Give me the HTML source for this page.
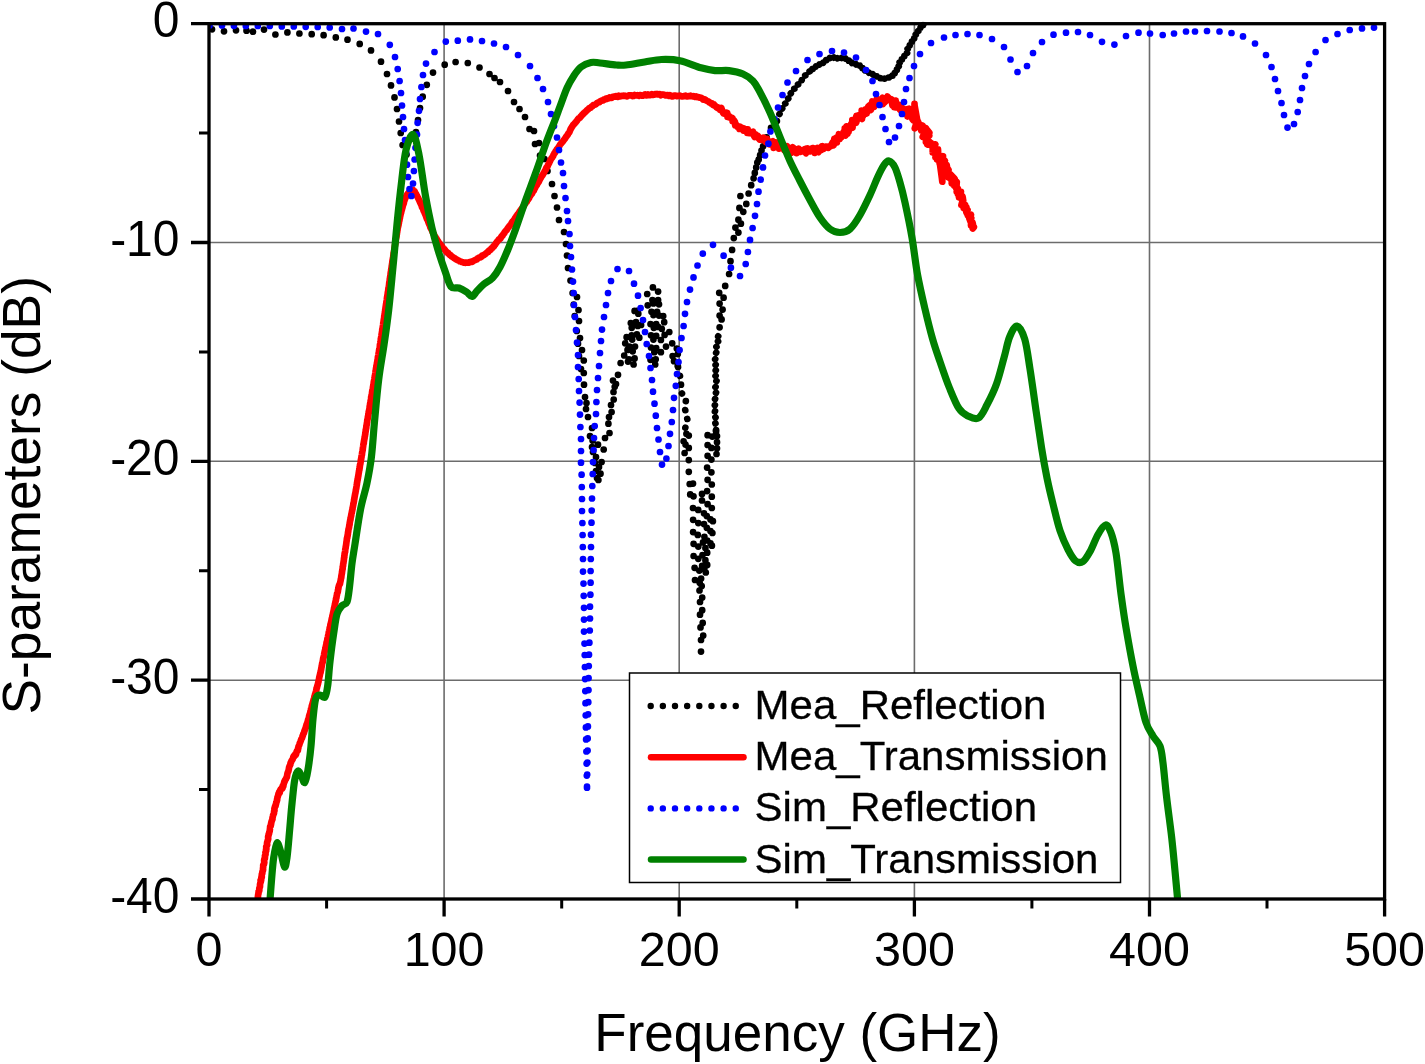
<!DOCTYPE html>
<html><head><meta charset="utf-8"><title>S-parameters</title>
<style>html,body{margin:0;padding:0;background:#fff}body{width:1425px;height:1064px;overflow:hidden}</style></head>
<body>
<svg width="1425" height="1064" viewBox="0 0 1425 1064" style="display:block">
<rect width="1425" height="1064" fill="#fff"/>
<path d="M444.1 23.7V899.0M679.2 23.7V899.0M914.4 23.7V899.0M1149.5 23.7V899.0M209.0 242.5H1384.6M209.0 461.3H1384.6M209.0 680.2H1384.6" stroke="#6c6c6c" stroke-width="1.6" fill="none"/>
<clipPath id="c"><rect x="209.0" y="21.7" width="1175.6" height="877.3"/></clipPath>
<g clip-path="url(#c)" fill="none" stroke-linecap="round" stroke-linejoin="round">
<g stroke="#000" stroke-width="6.7">
<path d="M678.0 367.0L681.0 380.5L681.0 392.0L686.0 399.5L685.0 409.0L687.4 419.5L685.0 429.0" stroke-dasharray="0.01 9"/>
<path d="M716.0 430.0L716.8 426.7L715.4 423.3L717.2 420.0L715.4 417.2L716.9 414.3L714.9 411.5L716.3 408.6L714.6 405.7L716.1 402.8L714.5 400.0L716.1 397.2L715.1 394.3L716.7 391.5L714.4 388.5L716.5 385.7L715.2 382.8L717.2 380.0L714.4 377.2L717.0 374.3L714.9 371.5L717.3 368.5L715.1 365.7L717.0 362.8L714.7 360.0L716.6 356.8L715.9 353.2L717.8 350.1L716.1 347.1L718.7 344.9L717.4 341.9L720.2 339.7L717.9 336.8L719.6 333.9" stroke-dasharray="0.01 7"/>
<path d="M779.5 114.0L781.0 111.6L781.8 108.9L783.6 107.0L784.1 104.3L786.4 102.8L786.9 99.8L789.0 97.8L789.3 94.8L791.4 92.7L792.1 89.9L794.8 88.6L795.7 85.8L798.1 84.4L798.9 81.7L801.6 80.5L803.0 76.8L806.3 74.8L807.7 72.1L810.5 71.1L812.2 68.6" stroke-dasharray="0.01 6.2"/>
<path d="M812.5 69.0L814.8 68.4L816.0 66.2L818.5 65.8L819.8 63.7L822.9 63.2L824.6 60.3L827.9 60.1L829.8 58.0L832.6 58.7L834.8 56.7L837.5 58.4L840.0 57.1L842.5 58.6L845.3 58.2L847.1 60.9L850.2 60.4L852.1 63.0L855.2 63.4L857.1 65.7L859.8 65.6L860.7 68.3L863.6 68.0L864.7 70.4L867.8 71.0L869.6 73.7L872.7 74.2L874.7 76.2L877.7 76.5L879.8 78.3L882.5 77.7L885.0 78.8L887.5 77.6L889.9 77.4L891.6 75.5L894.4 75.8L894.8 72.3L896.9 70.3L896.9 67.2L899.5 65.8L899.1 62.8L901.8 61.4L901.9 58.7L904.2 57.3L904.5 54.7L907.1 52.9L906.8 49.5L909.4 47.7L909.8 44.8L911.8 42.7L912.1 39.8L914.2 38.3L914.2 35.6L916.4 34.2L917.4 31.6L919.8 30.0L920.6 27.2L922.9 26.8L923.4 24.3" stroke-dasharray="0.01 4.5"/>
<path d="M212.0 29.3h.01M224.0 31.3h.01M236.0 30.3h.01M246.5 30.7h.01M253.0 31.7h.01M264.0 29.6h.01M275.4 34.5h.01M287.4 32.4h.01M299.4 33.5h.01M311.7 34.2h.01M323.6 35.2h.01M335.8 37.4h.01M347.5 39.7h.01M359.7 43.9h.01M371.0 50.4h.01M381.0 61.7h.01M387.0 74.0h.01M391.0 85.4h.01M394.5 97.4h.01M397.0 109.0h.01M399.0 121.5h.01M400.7 133.0h.01M402.6 145.0h.01M406.5 154.5h.01M416.0 132.0h.01M418.0 120.0h.01M420.0 108.0h.01M422.7 96.7h.01M426.8 84.8h.01M433.0 72.6h.01M444.7 64.7h.01M455.6 62.0h.01M467.8 63.0h.01M479.5 67.5h.01M489.5 74.0h.01M494.5 78.0h.01M500.0 82.0h.01M508.0 91.0h.01M514.0 102.0h.01M519.5 109.0h.01M525.0 117.0h.01M529.5 129.0h.01M534.0 131.0h.01M535.0 144.0h.01M539.0 143.0h.01M540.0 155.5h.01M544.5 159.0h.01M547.5 171.0h.01M552.0 184.0h.01M554.5 196.0h.01M557.0 207.5h.01M559.0 220.0h.01M564.0 232.0h.01M566.0 244.0h.01M567.0 255.5h.01M568.0 268.0h.01M570.5 280.5h.01M572.6 293.0h.01M573.7 304.7h.01M574.7 316.0h.01M579.0 321.0h.01M576.8 331.0h.01M578.0 343.7h.01M579.0 356.0h.01M583.8 360.5h.01M581.0 369.0h.01M583.8 373.0h.01M584.0 384.7h.01M585.0 397.0h.01M586.0 409.0h.01M588.0 417.0h.01M592.0 428.0h.01M592.6 440.5h.01M598.0 444.7h.01M593.0 452.0h.01M595.0 463.0h.01M597.0 478.0h.01M598.4 480.0h.01M600.5 473.7h.01M601.6 462.0h.01M603.7 449.5h.01M605.0 438.0h.01M609.5 433.0h.01M608.4 423.7h.01M611.6 412.0h.01M613.7 399.5h.01M614.7 386.8h.01M613.0 380.5h.01M618.0 374.8h.01M620.6 363.0h.01M592.0 447.0h.01M596.0 457.0h.01M599.0 467.0h.01M596.0 471.0h.01M613.5 392.0h.01M616.0 384.0h.01M611.0 405.0h.01M609.0 417.0h.01M577.0 297.0h.01M578.5 310.0h.01M580.0 338.0h.01M582.0 350.0h.01M586.5 403.0h.01M590.0 436.0h.01M652.9 287.4h.01M647.2 294.0h.01M658.1 291.6h.01M652.4 300.1h.01M658.1 300.1h.01M659.0 304.3h.01M647.7 305.3h.01M653.4 303.4h.01M651.5 311.8h.01M657.1 311.8h.01M663.2 316.1h.01M653.4 315.1h.01M659.0 315.6h.01M664.2 322.2h.01M650.5 324.1h.01M656.2 324.1h.01M661.8 328.8h.01M653.8 327.8h.01M658.1 326.9h.01M669.3 332.0h.01M664.6 334.9h.01M651.0 335.3h.01M656.2 335.8h.01M660.9 340.0h.01M653.4 339.6h.01M672.2 343.3h.01M666.0 346.6h.01M651.0 347.5h.01M656.2 348.0h.01M660.9 352.2h.01M654.3 352.2h.01M676.8 348.5h.01M672.6 356.0h.01M677.8 354.1h.01M650.5 359.8h.01M655.7 359.3h.01M655.2 364.5h.01M674.0 361.2h.01M677.8 365.4h.01M636.9 310.9h.01M638.3 313.7h.01M634.6 310.9h.01M630.8 323.1h.01M636.0 322.2h.01M631.7 327.8h.01M637.8 325.9h.01M641.1 325.0h.01M626.6 337.2h.01M631.7 335.3h.01M636.9 334.4h.01M632.2 339.6h.01M639.3 337.7h.01M625.2 343.3h.01M629.4 346.6h.01M635.0 346.6h.01M627.5 349.9h.01M632.7 351.3h.01M624.2 355.5h.01M628.9 359.3h.01M634.6 358.4h.01M628.0 361.6h.01M633.6 364.5h.01M707.6 435.2h.01M712.3 436.6h.01M716.1 431.4h.01M717.0 436.1h.01M707.6 445.0h.01M711.4 447.9h.01M717.0 448.3h.01M717.0 442.2h.01M707.6 455.8h.01M711.4 459.6h.01M716.5 454.0h.01M707.1 467.6h.01M711.4 472.3h.01M707.6 479.8h.01M711.8 484.5h.01M702.0 493.9h.01M707.1 491.1h.01M711.8 496.7h.01M702.0 500.5h.01M707.6 504.2h.01M711.8 508.0h.01M686.4 433.8h.01M688.8 435.6h.01M683.6 441.3h.01M685.5 444.6h.01M688.8 447.9h.01M684.6 453.0h.01M688.8 460.1h.01M688.8 471.8h.01M689.7 484.0h.01M693.0 483.6h.01M690.2 494.4h.01M693.5 496.3h.01M693.0 508.0h.01M698.2 509.9h.01M693.1 519.8h.01M698.3 523.1h.01M693.1 532.1h.01M697.8 534.9h.01M693.6 543.8h.01M698.3 546.6h.01M693.6 556.0h.01M698.3 558.8h.01M694.6 567.8h.01M699.3 570.6h.01M695.0 580.0h.01M699.7 582.8h.01M704.0 513.3h.01M706.8 516.1h.01M710.5 519.4h.01M712.9 521.2h.01M704.0 524.1h.01M706.8 527.8h.01M710.5 531.1h.01M712.4 533.0h.01M704.4 536.8h.01M707.2 540.5h.01M710.5 543.3h.01M711.9 545.7h.01M703.0 542.4h.01M705.4 548.0h.01M707.2 552.7h.01M702.5 555.1h.01M705.4 560.2h.01M707.2 564.9h.01M702.1 565.9h.01M704.4 568.7h.01M705.8 572.5h.01M701.1 578.6h.01M699.5 590.5h.01M700.0 602.0h.01M700.0 614.7h.01M700.5 627.4h.01M701.0 640.0h.01M701.0 651.6h.01M701.7 586.0h.01M702.2 597.5h.01M702.2 610.2h.01M702.7 622.9h.01M703.2 635.5h.01M719.6 327.3h.01M721.6 319.4h.01M719.6 315.5h.01M722.6 309.6h.01M719.6 303.6h.01M723.6 297.7h.01M719.2 292.8h.01M725.2 285.9h.01M729.1 274.0h.01M730.5 261.2h.01M732.1 249.9h.01M733.8 238.1h.01M738.4 232.6h.01M735.4 227.6h.01M740.9 223.7h.01M738.4 219.7h.01M743.3 211.8h.01M739.4 207.9h.01M746.3 203.9h.01M740.4 196.0h.01M748.6 193.5h.01M751.2 185.2h.01M753.6 178.3h.01M754.8 172.9h.01M756.2 167.4h.01M757.3 162.5h.01M758.7 159.5h.01M760.1 155.2h.01M761.5 150.6h.01M763.1 146.3h.01M766.6 137.4h.01M771.0 127.9h.01M776.9 121.0h.01"/>
</g>
<path d="M257.5 900.3L257.7 899.7L257.9 898.2L258.0 898.7L257.9 898.0L257.9 896.6L258.0 896.1L258.2 894.4L258.5 893.6L258.5 892.5L258.7 891.6L258.8 891.0L259.3 890.7L259.3 888.5L259.6 887.7L260.0 886.2L260.0 886.5L260.0 884.5L260.4 882.8L260.8 881.8L260.6 880.5L261.1 880.6L261.3 878.2L261.5 876.8L261.8 877.2L261.7 875.6L261.9 874.0L262.3 873.5L262.3 872.5L262.7 870.6L262.9 870.8L263.1 869.5L263.0 868.4L263.2 867.0L263.2 865.2L263.5 864.6L264.0 864.2L264.1 862.8L264.3 862.6L264.1 860.5L264.3 859.3L264.7 858.2L264.9 858.2L265.0 856.5L264.9 856.0L265.5 854.7L265.6 853.9L265.4 852.4L265.7 851.8L266.2 850.8L266.0 849.2L266.4 849.1L266.2 846.8L266.8 845.8L266.6 845.9L267.2 844.9L267.0 843.7L267.1 842.6L267.7 840.8L267.6 840.9L267.8 840.3L268.2 839.1L268.1 836.9L268.3 836.0L268.5 835.4L268.7 834.1L269.0 833.9L269.3 832.1L269.5 831.8L269.7 830.9L269.9 829.3L270.1 827.5L270.1 826.8L270.4 826.8L270.9 825.3L270.9 824.5L271.2 823.5L271.2 823.0L271.5 821.7L272.0 820.3L272.1 819.8L272.5 819.3L272.5 817.8L272.7 817.0L272.9 816.2L273.2 814.8L273.6 814.3L274.0 813.1L274.1 811.0L274.5 810.9L274.4 808.5L274.7 807.8L275.0 806.4L275.6 806.0L275.5 805.3L276.0 804.0L276.4 802.0L276.3 802.4L276.7 801.4L277.2 799.8L277.0 799.5L277.4 798.0L277.5 797.1L277.9 796.4L278.4 794.1L278.5 793.6L279.1 792.6L279.1 792.3L279.8 792.5L279.8 791.8L280.3 789.7L281.0 789.7L281.7 787.9L282.5 788.3L282.7 786.2L283.3 786.3L283.5 784.8L284.1 782.5L284.1 781.9L284.7 781.7L284.8 780.5L285.3 779.7L285.9 779.2L286.4 777.7L286.9 777.1L287.2 775.1L287.3 774.4L287.5 773.3L287.9 772.2L288.4 771.3L288.6 770.1L288.9 768.7L289.1 767.2L289.6 766.0L289.7 765.8L290.3 764.7L290.5 763.2L290.6 762.9L291.1 762.0L291.7 760.4L292.0 760.4L292.6 759.4L293.0 758.2L293.3 757.0L293.8 756.0L294.4 756.3L294.9 754.6L295.9 754.7L296.3 753.1L296.6 751.7L296.9 751.2L297.3 750.4L297.9 750.3L297.9 748.7L298.3 748.4L298.5 746.4L299.1 745.4L299.4 744.5L299.7 743.4L300.2 742.2L300.6 741.2L301.1 739.8L301.5 738.8L301.9 738.2L302.2 737.4L302.4 736.6L302.9 735.4L303.2 734.4L303.4 733.8L303.9 733.0L304.2 731.9L304.4 731.1L304.8 730.0L305.2 729.2L305.5 728.2L305.9 727.3L306.1 726.2L306.5 724.8L306.8 724.0L307.2 723.2L307.5 722.1L307.8 721.2L308.1 719.8L308.4 719.3L308.7 718.2L309.0 717.0L309.1 716.1L309.5 715.1L309.8 714.1L310.0 713.5L310.3 712.1L310.6 711.3L310.9 710.2L311.0 708.9L311.4 708.0L311.7 707.0L311.8 705.8L312.2 704.9L312.5 704.1L312.7 702.9L313.0 702.0L313.3 700.8L313.6 699.9L313.7 699.4L314.1 698.2L314.3 697.5L314.5 696.2L314.8 695.6L315.0 694.5L315.4 693.5L315.7 692.3L315.9 691.6L316.1 690.8L316.4 689.9L316.5 688.4L316.9 687.8L317.1 686.7L317.4 685.7L317.6 685.0L318.0 683.9L318.2 682.5L318.5 681.8L318.6 680.7L318.9 679.8L319.0 679.0L319.2 677.9L319.4 676.7L319.6 676.2L319.8 675.3L320.1 673.9L320.3 672.9L320.6 672.4L320.7 671.3L321.0 670.3L321.2 669.1L321.4 667.8L321.6 667.0L321.7 666.1L322.0 664.8L322.1 663.8L322.3 662.9L322.7 662.2L322.8 660.9L323.0 659.9L323.1 658.9L323.3 657.8L323.6 657.2L323.9 655.8L324.0 655.3L324.2 653.8L324.4 652.8L324.6 651.8L324.9 650.9L325.1 650.2L325.3 648.9L325.5 648.0L325.7 646.9L326.0 645.8L326.2 644.7L326.4 644.0L326.5 642.8L326.8 641.8L327.1 640.9L327.3 640.2L327.4 638.7L327.7 638.1L327.9 637.0L328.1 635.7L328.3 635.2L328.6 634.2L328.7 632.8L328.9 631.7L329.2 631.0L329.4 630.0L329.6 629.1L329.7 627.9L330.0 627.0L330.3 626.1L330.4 624.7L330.7 623.7L330.9 623.0L331.2 621.6L331.4 620.9L331.6 619.6L331.8 618.5L332.1 617.8L332.3 616.9L332.4 615.8L332.8 614.6L332.9 613.9L333.2 612.5L333.4 611.8L333.6 610.6L333.8 610.0L334.0 608.4L334.3 607.6L334.5 606.4L334.7 605.7L335.0 604.3L335.2 603.2L335.4 602.1L335.6 601.3L335.9 600.3L336.0 598.8L336.4 597.9L336.5 597.1L336.7 595.7L336.9 595.1L337.1 593.5L337.5 592.7L337.7 592.1L337.9 591.2L338.0 590.0L338.2 589.5L338.4 588.2L338.5 587.6L338.6 586.9L339.1 585.2L339.5 584.6L339.7 584.1L339.7 583.9L340.0 583.8L340.1 582.8L340.5 581.2L340.9 578.9L341.2 577.9L341.2 577.1L341.4 576.8L341.4 575.6L341.6 574.9L341.7 574.2L341.8 573.8L342.0 572.6L342.0 571.9L342.2 571.0L342.3 569.8L342.6 569.1L342.7 568.1L342.7 566.7L343.0 566.0L343.1 565.2L343.2 563.7L343.5 562.8L343.6 561.5L343.8 560.8L343.9 559.7L344.0 558.3L344.3 557.2L344.3 555.9L344.5 555.2L344.6 553.7L344.8 552.8L345.1 551.9L345.2 550.8L345.3 549.2L345.6 548.3L345.7 547.1L345.9 546.0L346.1 545.1L346.2 544.1L346.4 542.6L346.5 541.7L346.7 540.7L346.8 539.6L346.9 538.6L347.2 538.0L347.3 536.7L347.5 536.2L347.7 534.8L347.9 534.0L348.0 532.5L348.2 531.8L348.3 530.8L348.5 529.4L348.8 528.3L349.0 527.5L349.2 526.3L349.3 525.3L349.6 524.5L349.7 523.1L349.8 522.5L350.0 521.3L350.2 520.3L350.5 519.5L350.5 518.3L350.8 517.4L351.0 516.4L351.2 515.5L351.3 514.7L351.5 513.5L351.8 512.8L351.9 511.5L352.1 510.9L352.3 509.7L352.5 509.1L352.6 507.9L352.9 506.8L353.0 506.2L353.3 504.7L353.3 503.7L353.6 503.1L353.8 502.0L354.0 500.9L354.1 499.6L354.4 498.8L354.4 498.1L354.6 497.0L354.8 496.0L355.0 494.9L355.1 494.3L355.4 493.0L355.5 492.4L355.8 490.9L355.8 490.4L356.1 488.9L356.3 488.1L356.4 487.2L356.6 485.9L356.7 485.0L356.9 484.4L357.0 483.0L357.2 482.1L357.3 481.1L357.6 480.0L357.6 479.4L357.9 478.2L358.1 476.8L358.3 475.9L358.4 475.1L358.6 474.0L358.7 473.1L358.9 472.1L359.0 471.0L359.3 470.1L359.5 468.9L359.6 468.2L359.8 466.8L359.9 465.8L360.0 465.0L360.3 464.0L360.5 462.7L360.6 461.7L360.8 461.2L360.9 459.7L361.2 458.9L361.3 457.8L361.5 457.3L361.5 456.2L361.8 455.3L362.0 454.3L362.1 452.8L362.2 452.3L362.5 450.9L362.7 449.8L362.8 448.9L362.9 447.8L363.0 447.3L363.2 445.9L363.3 444.9L363.5 443.8L363.8 443.3L363.8 442.3L364.0 441.2L364.2 440.0L364.4 438.9L364.6 438.0L364.6 437.2L364.9 436.3L365.1 434.9L365.3 433.9L365.3 433.1L365.5 432.2L365.7 430.8L365.9 429.7L366.0 428.9L366.2 428.3L366.3 427.1L366.4 425.7L366.7 424.8L366.8 424.0L366.9 423.2L367.2 421.8L367.2 420.7L367.4 419.9L367.6 418.9L367.8 418.1L368.0 416.8L368.1 416.0L368.3 415.3L368.4 413.8L368.7 413.1L368.8 412.2L368.9 410.9L369.2 410.1L369.4 408.9L369.6 408.0L369.6 407.1L369.7 406.2L370.0 405.0L370.1 403.8L370.2 403.2L370.6 402.0L370.6 400.8L370.8 400.1L371.1 399.1L371.1 397.8L371.2 396.9L371.5 396.2L371.6 395.1L371.9 394.2L372.0 393.0L372.1 392.0L372.3 390.8L372.5 389.7L372.7 389.1L372.9 388.2L373.0 386.9L373.2 386.0L373.3 385.0L373.6 384.1L373.7 382.8L373.8 381.7L374.0 380.9L374.2 380.3L374.4 378.9L374.5 377.9L374.7 377.3L374.9 376.2L375.0 375.4L375.2 374.3L375.3 373.3L375.5 372.3L375.6 371.0L375.8 370.3L375.9 369.4L376.1 367.9L376.3 367.5L376.4 366.0L376.7 365.0L376.9 364.4L376.9 363.4L377.1 362.4L377.4 361.5L377.4 360.5L377.7 359.5L377.8 358.6L377.9 357.1L378.2 356.0L378.4 355.5L378.5 354.5L378.6 353.2L378.9 352.0L379.0 351.1L379.1 350.2L379.3 349.0L379.5 348.3L379.8 347.0L379.9 346.1L379.9 345.1L380.1 344.0L380.3 343.2L380.5 342.2L380.7 341.0L380.8 339.9L380.8 339.0L381.1 338.0L381.1 337.5L381.4 336.2L381.5 335.4L381.6 334.2L381.8 333.4L381.9 332.5L382.2 331.1L382.2 330.2L382.3 329.3L382.6 328.4L382.7 327.4L382.9 326.1L383.1 325.1L383.2 323.9L383.3 322.8L383.5 322.0L383.6 321.1L383.7 320.3L383.9 319.0L384.1 318.2L384.2 317.1L384.3 315.9L384.6 315.2L384.6 314.1L384.9 312.9L384.9 311.9L385.2 310.8L385.2 309.7L385.5 308.7L385.5 308.0L385.7 306.6L385.9 305.7L386.0 304.5L386.3 303.5L386.3 302.8L386.4 302.0L386.7 300.6L386.8 299.9L386.9 298.7L387.0 297.8L387.2 296.5L387.4 295.4L387.6 294.8L387.7 293.6L387.8 292.6L388.0 291.7L388.2 290.7L388.3 289.5L388.4 288.7L388.6 287.3L388.8 286.7L389.0 285.6L389.1 284.5L389.2 283.3L389.3 282.4L389.6 281.3L389.7 280.4L389.8 279.1L390.0 278.2L390.1 277.2L390.2 276.5L390.5 275.3L390.6 274.1L390.6 273.5L390.8 272.2L391.1 271.4L391.1 270.2L391.3 269.3L391.4 268.4L391.6 267.4L391.7 266.3L391.8 265.6L392.0 264.5L392.1 263.6L392.3 262.8L392.4 261.3L392.5 260.6L392.7 259.7L392.8 259.0L393.0 257.9L393.3 257.0L393.3 255.7L393.5 254.8L393.6 253.3L393.9 252.5L394.0 251.3L394.2 250.2L394.4 249.4L394.6 248.1L394.7 247.1L394.9 245.7L395.1 244.6L395.3 243.7L395.4 242.6L395.5 241.5L395.6 240.5L395.8 239.8L396.0 238.5L396.2 237.6L396.4 236.7L396.6 235.6L396.6 234.9L396.9 234.0L396.9 233.0L397.2 232.1L397.2 230.7L397.5 230.3L397.6 229.0L397.7 228.1L397.9 227.6L398.2 226.3L398.2 225.8L398.5 225.1L398.6 224.2L398.9 223.0L399.0 221.7L399.4 220.4L399.6 219.2L399.9 218.1L400.1 216.6L400.4 215.4L400.6 214.3L400.9 213.3L401.2 212.4L401.3 211.6L401.6 210.6L401.9 209.5L402.1 208.7L402.5 207.5L402.7 206.4L402.8 205.9L403.1 205.1L403.3 204.5L403.6 203.7L403.9 202.7L404.0 201.7L404.5 200.5L404.9 199.3L405.4 198.0L405.8 197.2L406.2 196.2L406.7 195.5L407.1 194.7L407.5 194.1L408.0 193.4L408.8 192.8L409.5 191.6L410.3 190.5L411.2 190.0L412.0 189.9L413.1 190.1L413.4 190.4L413.9 190.8L414.6 191.4L415.1 192.5L415.7 193.5L416.2 194.4L416.8 195.5L417.3 196.6L417.9 197.5L418.5 198.8L418.9 199.8L419.4 200.5L419.8 201.9L420.2 202.4L420.6 203.5L420.9 204.0L421.3 205.0L421.7 205.9L422.0 207.2L422.4 207.9L422.9 208.6L423.4 209.9L423.6 210.8L424.2 211.8L424.7 213.1L425.0 213.9L425.5 214.8L425.8 215.7L426.1 216.4L426.5 217.7L426.9 218.8L427.3 219.7L427.7 220.1L428.1 221.2L428.4 222.1L428.9 223.5L429.3 224.5L429.7 225.0L430.1 226.4L430.4 227.5L430.9 228.5L431.2 228.9L431.8 230.2L432.2 230.8L432.6 232.1L433.1 233.1L433.5 233.5L434.0 234.6L434.5 235.7L435.1 236.7L435.7 237.6L436.3 238.4L437.0 239.5L437.5 240.5L438.0 241.1L438.8 242.4L439.3 243.2L440.1 243.9L440.6 244.9L441.3 245.4L441.9 246.5L442.5 247.2L443.2 248.1L443.7 248.5L444.4 249.2L445.1 250.1L445.7 251.1L446.7 252.0L447.5 252.8L448.4 253.3L449.2 254.3L449.9 255.1L450.8 255.3L451.5 256.4L452.5 257.0L453.2 257.2L454.0 258.1L454.8 258.3L455.8 259.2L456.6 259.5L457.7 260.3L458.7 260.5L459.7 261.3L460.7 261.5L461.6 261.9L462.6 262.0L463.6 262.6L464.6 262.7L465.6 262.8L466.7 262.5L467.5 262.7L468.5 262.7L469.4 262.2L470.3 262.1L471.1 261.6L472.2 261.8L473.1 261.1L474.0 260.5L475.0 260.1L476.0 259.7L477.0 259.3L477.7 258.3L478.5 257.9L479.4 257.4L480.3 257.4L481.2 257.0L482.0 255.7L482.8 255.4L483.7 255.3L484.7 254.4L485.6 254.0L486.5 252.9L487.5 252.0L488.2 252.0L489.1 250.4L490.1 249.9L490.7 249.7L491.4 248.4L492.0 248.2L492.5 247.8L493.3 246.4L493.9 246.3L494.6 245.0L495.1 244.6L495.8 243.5L496.5 242.5L497.1 241.8L497.8 240.9L498.5 240.0L499.0 239.3L499.7 239.1L500.5 238.3L501.0 237.4L501.6 236.2L502.4 235.8L503.0 234.7L503.7 233.7L504.3 233.0L504.8 231.9L505.5 231.1L506.0 230.6L506.7 230.1L507.3 228.9L508.0 227.9L508.5 227.2L509.1 226.4L509.7 225.9L510.3 225.1L511.1 224.2L511.7 222.8L512.2 222.0L512.9 221.1L513.6 220.9L514.0 219.9L514.9 218.6L515.4 217.5L516.1 216.8L516.6 215.8L517.0 215.3L517.8 214.2L518.2 213.8L518.9 213.0L519.4 212.0L519.9 211.1L520.6 210.8L521.0 209.6L521.7 208.7L522.2 208.2L522.8 207.1L523.4 206.7L523.8 205.8L524.5 204.5L525.1 204.0L525.7 202.8L526.3 202.2L526.7 201.8L527.4 200.2L528.0 199.7L528.4 198.7L529.0 198.3L529.5 196.9L529.9 196.4L530.5 195.5L531.0 194.7L531.7 194.0L532.1 193.3L532.6 192.3L533.1 191.4L533.8 190.7L534.2 189.5L534.7 188.6L535.4 187.3L535.7 186.6L536.2 185.6L536.7 185.3L537.4 183.8L537.7 183.0L538.4 182.4L538.9 181.5L539.5 180.2L539.8 179.8L540.4 178.4L540.9 177.8L541.5 176.6L542.0 175.7L542.4 175.4L543.1 174.3L543.6 173.1L544.0 172.8L544.6 171.4L545.0 170.6L545.6 170.0L546.0 168.6L546.5 167.6L547.1 167.2L547.6 166.2L547.9 165.2L548.6 164.0L549.0 163.4L549.6 162.0L550.0 161.1L550.5 159.9L550.9 159.3L551.6 158.1L552.1 157.8L552.6 156.8L553.1 156.1L553.6 154.6L554.1 153.9L554.5 153.1L555.0 152.8L555.6 151.3L556.3 150.5L556.8 149.5L557.4 148.8L558.2 147.9L558.7 146.9L559.4 146.0L560.0 144.8L560.7 143.9L561.3 143.3L561.9 142.3L562.7 141.8L563.2 141.0L563.7 140.2L564.4 139.5L565.0 138.6L565.5 137.8L566.0 136.9L566.5 136.4L566.9 135.8L567.6 134.9L568.2 133.7L568.8 132.8L569.3 132.3L569.8 131.2L570.3 129.8L570.6 129.3L571.0 128.4L571.4 127.9L572.1 126.6L572.5 126.2L573.2 124.9L574.0 124.1L574.6 123.6L575.2 122.7L575.8 122.2L576.4 121.2L577.1 120.7L577.7 119.4L578.4 118.6L579.1 118.3L579.8 117.8L580.6 116.6L581.3 116.1L582.0 115.0L582.9 114.3L583.5 113.4L584.3 112.9L585.1 112.0L585.8 111.7L586.5 110.7L587.2 109.9L588.0 109.6L589.0 108.4L589.8 107.9L590.7 107.7L591.5 106.5L592.3 106.4L593.3 105.1L594.2 104.9L595.0 104.6L595.9 104.2L596.8 103.3L597.6 102.7L598.5 102.3L599.4 102.2L600.1 101.4L601.1 100.8L602.0 100.6L603.1 100.5L603.9 99.6L605.0 99.4L605.8 98.7L606.6 99.0L607.8 98.1L608.5 98.4L609.6 97.3L610.6 97.7L611.6 97.9L612.4 97.0L613.6 96.6L614.7 96.7L616.0 96.1L616.8 96.5L617.8 96.9L618.7 95.7L619.6 96.5L620.5 96.3L621.8 95.8L622.8 96.0L623.8 95.5L624.8 95.9L626.0 96.0L627.1 96.4L628.0 95.7L629.4 95.3L630.2 95.3L631.4 95.3L632.5 96.1L633.4 96.0L634.7 95.0L635.7 95.4L636.4 95.4L637.4 95.2L638.7 95.9L639.7 95.2L640.6 95.2L641.9 95.7L642.8 95.7L643.8 95.2L645.0 94.4L645.8 95.3L646.9 95.3L647.9 94.5L648.8 95.2L649.7 95.2L650.9 94.4L651.7 94.2L652.8 95.0L653.8 94.8L654.9 94.1L656.1 94.1L656.9 94.3L657.9 94.1L658.8 94.5L659.7 94.2L660.8 95.2L661.7 94.6L662.7 94.7L663.9 94.5L664.7 95.0L665.7 95.5L667.0 95.1L667.9 95.0L669.0 95.9L669.9 95.2L670.9 96.0L671.9 96.4L673.0 96.4L674.0 95.6L675.1 95.6L676.2 95.8L677.0 96.2L678.1 95.8L679.3 95.8L680.2 95.7L681.2 96.2L682.4 96.5L683.5 96.3L684.5 95.9L685.5 95.6L686.6 96.5L687.6 96.3L688.7 96.2L689.7 96.2L690.6 95.7L691.5 95.9L692.5 96.5L693.6 96.2L694.4 96.7L694.9 96.9L696.2 96.4L697.7 97.2L698.6 97.0L699.7 97.7L700.6 97.5L701.3 98.0L702.0 98.2L703.1 99.5L703.8 99.7L704.9 99.4L705.7 100.0L706.5 100.7L707.6 101.1L708.5 101.4L709.4 102.4L710.2 102.5L711.0 103.6L712.1 103.3L712.9 104.8L714.0 104.5L714.6 105.8L715.6 106.0L716.5 107.2L717.6 108.0L718.4 107.6L719.2 108.5L719.8 109.6L721.3 108.0L722.1 110.1L722.6 111.9L723.3 113.2L723.3 112.1L724.6 113.9L726.1 113.7L726.6 112.7L727.3 112.9L727.5 116.9L729.2 116.4L729.3 117.5L729.4 116.4L730.7 117.6L731.3 117.6L732.5 118.1L732.6 121.2L733.7 120.1L734.9 121.7L734.7 122.1L735.2 125.2L736.1 124.5L737.1 126.3L737.3 126.7L738.6 127.0L739.6 126.7L739.5 129.0L740.6 127.1L741.1 127.3L742.1 128.2L743.3 130.5L744.0 128.4L745.0 130.4L745.5 129.5L747.7 129.3L747.4 133.0L749.5 133.2L749.3 133.0L750.6 133.1L751.7 132.2L753.1 131.8L753.6 135.1L754.6 136.9L755.0 134.3L755.7 134.3L757.8 137.6L757.9 135.9L759.7 137.9L759.8 139.6L761.6 139.4L761.9 139.7L763.5 137.7L763.9 138.7L764.8 140.2L765.6 141.9L767.0 138.9L768.3 142.0L769.3 142.8L769.7 144.4L770.0 142.9L771.7 142.1L772.9 141.2L773.4 142.1L773.7 147.8L775.3 142.2L776.9 143.6L778.2 142.8L779.0 148.6L779.0 146.2L780.4 148.0L781.0 146.8L782.6 147.2L784.1 150.0L783.9 146.0L785.5 148.1L785.8 147.7L787.1 146.3L789.3 148.9L790.2 152.0L791.4 152.7L792.1 150.6L792.8 147.2L793.1 150.9L795.4 150.8L795.8 150.3L796.2 149.3L796.6 153.1L798.8 148.8L798.7 150.5L800.3 151.9L801.3 151.5L802.6 151.2L802.8 150.4L805.2 149.0L804.8 151.3L806.0 153.3L807.6 148.4L808.5 149.4L809.0 151.3L809.8 151.4L811.7 150.9L812.4 148.1L813.5 148.0L814.7 152.9L816.2 151.9L817.6 147.9L816.9 151.6L818.5 152.2L820.5 147.7L821.2 150.0L822.1 147.0L822.0 146.2L822.5 147.8L823.9 148.8L825.7 146.5L827.0 146.8L827.9 147.5L828.8 146.6L828.3 147.9L829.5 146.5L831.0 146.0L830.8 145.8L832.8 142.2L833.7 145.2L834.3 138.8L835.1 138.4L835.0 142.3L836.9 142.5L836.8 137.6L838.8 138.2L838.2 138.4L838.9 134.2L839.7 139.0L840.7 136.3L841.7 136.7L843.7 131.6L844.0 134.1L845.5 135.5L844.8 128.4L845.9 128.7L847.4 133.8L846.7 126.3L848.6 131.8L848.8 127.7L850.4 125.1L851.2 126.2L850.0 127.1L851.0 124.1L852.6 127.8L852.3 120.2L853.7 121.9L854.2 122.8L854.0 120.2L855.4 121.2L856.4 115.9L856.1 122.9L858.3 115.4L858.1 115.6L858.7 116.7L860.1 116.6L862.0 118.9L861.7 110.7L863.2 115.8L863.4 115.1L863.6 113.2L865.4 109.6L866.5 113.6L865.8 111.4L867.6 111.3L868.1 108.6L868.7 106.7L868.3 106.5L869.7 105.3L870.9 110.0L871.1 104.5L872.1 102.9L872.3 101.5L874.3 106.8L875.6 102.8L875.6 101.1L876.9 98.8L879.0 100.2L880.4 101.8L881.4 99.7L880.3 101.3L882.5 97.8L882.9 104.1L883.9 102.3L884.0 102.9L887.1 99.9L886.6 98.4L887.4 96.6L889.7 98.9L889.9 98.9L891.4 99.3L892.4 105.1L893.6 100.4L894.3 107.1L895.7 100.6L895.5 107.5L896.0 102.2L898.5 106.1L899.5 107.6L899.0 105.0L901.3 110.1L902.4 108.0L899.1 108.1L899.8 109.5L902.5 111.9L905.0 111.4L904.8 110.0L909.0 108.8L910.3 114.1L908.6 110.4L907.4 116.5L906.9 111.8L911.8 113.0L912.8 113.3L911.5 116.8L912.3 118.9L913.2 120.3L914.8 118.4L914.5 103.8L914.5 105.0L917.4 121.0L915.8 127.2L916.8 122.0L914.8 128.3L917.8 121.2L920.5 127.3L922.6 125.6L921.8 125.3L917.6 124.9L918.5 126.1L922.6 130.0L925.9 128.2L921.3 130.6L925.9 129.9L922.7 137.0L927.4 130.3L929.4 132.9L927.6 135.9L929.3 135.5L926.7 137.4L925.9 142.0L926.2 141.5L929.1 141.7L927.4 144.5L930.3 142.9L934.5 146.8L930.2 145.2L931.0 143.0L931.3 145.4L935.4 144.3L932.8 148.7L932.7 152.4L932.7 149.6L938.2 153.2L938.0 149.3L935.4 154.9L937.3 151.7L935.5 157.3L938.9 156.3L939.2 155.2L937.1 159.6L938.6 160.4L942.4 160.4L943.0 156.2L939.7 163.8L938.9 156.3L942.3 181.0L942.3 181.7L940.3 164.5L944.8 160.7L943.1 161.2L946.5 169.5L948.6 169.9L944.0 163.5L947.5 170.6L946.7 165.1L946.6 167.6L944.3 167.4L946.8 175.8L946.0 175.7L946.6 173.4L947.4 173.9L947.7 177.1L950.6 178.5L950.2 174.2L954.5 178.5L950.3 178.2L955.3 184.4L951.7 183.4L952.1 179.6L951.1 179.6L954.0 184.2L954.1 185.5L956.8 181.9L956.3 188.3L957.8 188.4L959.5 193.0L956.7 191.7L957.3 189.3L957.8 194.0L958.3 192.1L961.0 191.9L960.0 192.1L959.0 197.4L959.9 196.8L959.6 196.0L962.5 196.3L963.2 200.5L962.8 197.9L963.1 200.2L962.2 202.2L961.4 205.1L965.2 205.0L964.6 204.9L963.7 208.2L966.1 207.4L966.4 207.2L966.2 208.3L967.2 210.4L967.5 209.9L966.3 212.0L966.9 213.3L968.1 215.6L968.7 215.7L967.9 215.4L971.0 214.7L969.8 217.3L971.2 218.1L969.2 218.0L970.7 222.1L972.5 222.4L973.0 224.8L971.4 221.8L973.3 226.7L971.0 224.3L971.0 225.8L973.9 227.1L972.7 228.5L972.6 227.0" stroke="#f00" stroke-width="6.7"/>
<path d="M209.5 25.5h.01M222.0 25.4h.01M233.9 25.8h.01M245.8 26.0h.01M257.8 26.0h.01M269.8 26.0h.01M281.8 26.5h.01M293.8 26.5h.01M305.7 26.8h.01M317.7 27.0h.01M329.7 27.5h.01M342.0 29.0h.01M353.5 28.5h.01M366.0 31.6h.01M378.0 34.0h.01M389.8 44.8h.01M395.0 57.0h.01M397.7 69.0h.01M399.6 81.0h.01M401.0 93.0h.01M402.0 105.5h.01M403.0 117.0h.01M404.0 129.0h.01M405.0 140.0h.01M406.0 152.5h.01M407.0 164.7h.01M408.0 177.0h.01M409.5 189.0h.01M411.4 196.0h.01M413.0 183.5h.01M413.9 171.0h.01M414.6 159.5h.01M415.5 147.8h.01M417.0 134.6h.01M417.6 122.8h.01M419.0 110.8h.01M420.0 99.0h.01M421.4 87.0h.01M423.0 75.0h.01M426.0 63.6h.01M434.5 52.0h.01M445.8 41.6h.01M457.8 40.7h.01M470.0 39.4h.01M482.0 41.0h.01M494.0 43.5h.01M506.0 47.0h.01M518.0 55.0h.01M530.0 66.0h.01M537.5 78.0h.01M543.0 89.0h.01M548.0 102.0h.01M551.0 114.0h.01M554.0 126.0h.01M557.0 137.5h.01M559.0 150.0h.01M561.0 162.5h.01M563.0 173.0h.01M564.0 186.0h.01M565.5 198.0h.01M567.0 211.0h.01M568.0 221.0h.01M569.5 234.0h.01M570.0 246.0h.01M571.0 257.0h.01M572.0 269.5h.01M573.0 281.6h.01M573.7 293.0h.01M574.0 305.0h.01M575.0 317.0h.01M576.0 330.0h.01M577.0 342.6h.01M578.0 355.0h.01M578.0 367.0h.01M578.7 379.0h.01M579.0 391.0h.01M579.6 402.6h.01M580.0 414.6h.01M580.4 427.0h.01M581.0 439.0h.01M581.0 451.0h.01M581.0 462.7h.01M581.6 474.7h.01M581.8 487.0h.01M582.0 499.0h.01M582.0 511.0h.01M582.4 523.0h.01M582.6 535.0h.01M582.8 547.0h.01M583.0 559.0h.01M583.0 571.6h.01M583.5 583.6h.01M583.7 595.8h.01M584.0 607.8h.01M584.0 619.6h.01M584.0 631.6h.01M584.5 643.6h.01M584.7 655.0h.01M584.9 667.0h.01M585.1 679.1h.01M585.3 691.1h.01M585.5 703.2h.01M585.7 715.3h.01M585.9 727.4h.01M586.1 739.4h.01M586.4 751.5h.01M586.6 763.6h.01M586.8 775.6h.01M587.0 787.7h.01M587.0 786.7h.01M587.2 774.6h.01M587.4 762.6h.01M587.6 750.5h.01M587.7 738.4h.01M587.9 726.4h.01M588.1 714.3h.01M588.3 702.2h.01M588.5 690.1h.01M588.6 678.1h.01M588.8 666.0h.01M589.0 654.7h.01M589.4 642.7h.01M589.8 630.5h.01M590.0 618.5h.01M590.0 606.7h.01M590.4 594.7h.01M590.6 582.7h.01M590.6 571.0h.01M590.8 559.0h.01M591.0 547.0h.01M591.0 534.7h.01M591.5 522.7h.01M591.7 510.5h.01M592.0 498.5h.01M592.3 486.0h.01M592.7 474.0h.01M593.0 462.0h.01M593.6 450.0h.01M594.0 438.0h.01M594.7 426.0h.01M596.0 414.0h.01M596.4 402.0h.01M597.0 390.0h.01M598.0 378.0h.01M599.0 366.0h.01M600.0 353.0h.01M601.0 341.0h.01M602.0 329.6h.01M604.0 317.0h.01M606.0 305.0h.01M608.0 293.0h.01M611.0 281.0h.01M617.5 269.0h.01M629.0 271.0h.01M634.0 283.7h.01M638.0 295.7h.01M640.6 308.0h.01M643.0 320.0h.01M645.0 332.0h.01M646.7 344.0h.01M649.0 356.0h.01M650.5 368.0h.01M652.0 380.0h.01M653.0 391.7h.01M654.5 403.7h.01M655.8 415.7h.01M657.0 428.0h.01M658.5 439.5h.01M660.0 452.0h.01M662.0 464.6h.01M666.4 458.5h.01M668.5 446.0h.01M670.0 433.8h.01M671.8 422.0h.01M673.0 410.0h.01M674.0 397.8h.01M675.8 385.8h.01M677.0 374.0h.01M678.5 362.0h.01M679.6 350.0h.01M681.5 338.0h.01M683.6 326.0h.01M685.0 313.8h.01M687.0 302.0h.01M690.0 289.6h.01M693.5 277.4h.01M697.5 265.5h.01M702.8 253.7h.01M713.0 244.8h.01M723.6 255.7h.01M730.9 267.7h.01M740.0 276.0h.01M745.7 264.0h.01M747.9 252.0h.01M750.0 239.9h.01M752.6 228.0h.01M755.0 215.8h.01M757.0 204.0h.01M758.5 191.7h.01M760.7 179.6h.01M763.0 167.4h.01M765.0 155.5h.01M768.4 143.7h.01M770.4 131.5h.01M774.5 119.0h.01M778.0 107.5h.01M782.5 95.0h.01M787.5 82.5h.01M796.0 71.0h.01M807.5 60.0h.01M819.5 54.0h.01M832.0 51.0h.01M844.0 52.5h.01M856.0 57.5h.01M866.0 70.0h.01M872.5 81.0h.01M876.0 94.0h.01M879.5 105.0h.01M882.5 117.0h.01M885.5 129.0h.01M889.0 142.0h.01M895.0 137.5h.01M899.0 126.0h.01M902.0 114.0h.01M904.0 102.0h.01M906.0 89.0h.01M909.5 78.0h.01M914.0 66.0h.01M920.0 54.0h.01M931.0 43.0h.01M944.0 37.5h.01M955.5 35.0h.01M967.5 34.0h.01M979.5 35.0h.01M992.0 39.0h.01M1004.0 47.0h.01M1010.5 59.5h.01M1017.5 72.0h.01M1027.0 66.0h.01M1033.0 53.0h.01M1042.0 42.0h.01M1053.5 34.7h.01M1066.0 32.7h.01M1078.0 32.0h.01M1090.0 35.0h.01M1102.0 41.8h.01M1114.4 44.6h.01M1126.0 36.0h.01M1138.5 32.7h.01M1150.0 33.5h.01M1162.7 35.0h.01M1174.0 33.5h.01M1186.0 31.5h.01M1195.0 31.5h.01M1207.0 31.0h.01M1219.5 31.5h.01M1231.5 33.0h.01M1243.0 36.4h.01M1255.0 43.5h.01M1266.0 55.0h.01M1271.5 67.0h.01M1275.0 79.0h.01M1278.0 91.0h.01M1281.5 103.0h.01M1284.0 115.0h.01M1287.5 127.6h.01M1294.0 124.0h.01M1297.7 112.0h.01M1300.0 100.0h.01M1302.0 88.0h.01M1305.0 76.0h.01M1309.0 64.0h.01M1315.6 52.0h.01M1325.5 40.0h.01M1337.5 34.0h.01M1349.7 30.0h.01M1362.0 28.4h.01M1374.0 27.6h.01" stroke="#00f" stroke-width="6.7"/>
<path d="M270.0 900.0C270.3 896.3 271.1 885.1 271.7 878.0C272.3 870.9 272.8 863.4 273.7 857.6C274.6 851.8 275.9 844.1 277.0 843.0C278.1 841.9 279.2 847.0 280.5 851.0C281.8 855.0 283.4 865.9 284.5 867.0C285.6 868.1 286.1 863.7 287.0 857.6C287.9 851.5 288.8 839.5 289.6 830.5C290.4 821.5 291.1 811.9 292.0 803.5C292.9 795.1 293.7 785.4 294.7 780.0C295.7 774.6 296.9 771.7 298.0 771.0C299.1 770.3 300.4 774.1 301.5 776.0C302.6 777.9 303.7 783.5 304.8 782.5C305.9 781.5 307.0 775.8 308.0 769.7C309.0 763.6 310.2 754.5 311.0 746.0C311.8 737.5 312.2 726.9 313.0 719.0C313.8 711.1 314.5 702.7 315.7 698.7C316.9 694.7 318.4 695.3 320.0 695.0C321.6 694.7 323.7 698.7 325.0 697.0C326.3 695.3 327.0 690.9 327.8 685.0C328.6 679.1 329.0 670.0 330.0 661.5C331.0 653.0 332.4 641.9 333.6 634.0C334.8 626.1 335.6 618.7 337.0 614.0C338.4 609.3 340.3 607.7 342.0 605.7C343.7 603.7 345.8 605.1 347.0 602.0C348.2 598.9 348.7 593.4 349.5 587.0C350.3 580.6 351.1 570.6 352.0 563.4C352.9 556.2 353.6 553.1 355.0 544.0C356.4 534.9 358.6 519.2 360.6 509.0C362.6 498.8 365.2 491.7 367.0 483.0C368.8 474.3 370.2 467.0 371.4 457.0C372.6 447.0 373.2 435.9 374.4 423.0C375.6 410.1 377.1 392.6 378.7 379.6C380.3 366.6 382.3 356.6 384.0 345.0C385.7 333.4 387.2 323.0 388.7 310.0C390.2 297.0 391.6 281.3 393.0 267.0C394.4 252.7 395.6 238.4 397.0 224.0C398.4 209.6 400.2 192.9 401.7 180.6C403.2 168.3 404.1 157.7 406.0 150.0C407.9 142.3 410.8 133.7 413.0 134.5C415.2 135.3 416.9 144.3 419.0 154.6C421.1 164.8 423.3 183.8 425.5 196.0C427.7 208.2 429.9 219.0 432.0 228.0C434.1 237.0 435.8 242.8 438.0 250.0C440.2 257.2 442.8 264.9 445.0 271.0C447.2 277.1 448.7 283.8 451.0 286.6C453.3 289.4 456.4 287.1 459.0 288.0C461.6 288.9 464.4 290.6 466.6 292.0C468.8 293.4 470.3 296.7 472.0 296.5C473.7 296.3 475.0 293.1 477.0 291.0C479.0 288.9 481.4 286.2 484.0 284.0C486.6 281.8 489.8 280.8 492.5 278.0C495.2 275.2 497.5 271.7 500.0 267.0C502.5 262.3 505.0 256.5 507.7 250.0C510.4 243.5 513.1 236.0 516.0 228.0C518.9 220.0 521.7 211.3 525.0 202.0C528.3 192.7 532.4 182.1 536.0 172.0C539.6 161.9 543.4 150.3 546.6 141.6C549.8 132.9 552.8 125.8 555.0 120.0C557.2 114.2 558.0 111.8 560.0 106.5C562.0 101.2 564.7 93.2 567.0 88.0C569.3 82.8 571.7 79.0 574.0 75.5C576.3 72.0 578.2 69.2 581.0 67.0C583.8 64.8 587.8 63.2 591.0 62.5C594.2 61.8 595.8 62.6 600.0 63.0C604.2 63.4 612.1 64.7 616.4 65.0C620.7 65.3 621.3 65.5 626.0 65.0C630.7 64.5 638.7 62.9 644.6 62.0C650.5 61.1 655.6 59.7 661.5 59.5C667.4 59.3 673.4 59.3 680.0 60.7C686.6 62.1 695.2 66.2 701.0 67.8C706.8 69.4 710.3 70.1 715.0 70.6C719.7 71.1 724.3 70.0 729.0 70.6C733.7 71.2 739.0 72.3 743.0 74.0C747.0 75.7 750.3 78.2 753.0 81.0C755.7 83.8 756.6 85.8 759.4 91.0C762.2 96.2 766.6 104.8 770.0 112.5C773.4 120.2 776.7 128.9 780.0 137.0C783.3 145.1 786.7 153.7 790.0 161.0C793.3 168.3 796.7 174.5 800.0 181.0C803.3 187.5 806.7 193.9 810.0 200.0C813.3 206.1 816.7 212.7 820.0 217.5C823.3 222.3 826.7 226.5 830.0 229.0C833.3 231.5 836.7 232.5 840.0 232.5C843.3 232.5 846.7 231.9 850.0 229.0C853.3 226.1 856.7 220.7 860.0 215.0C863.3 209.3 867.1 201.2 870.0 195.0C872.9 188.8 875.2 182.5 877.5 177.5C879.8 172.5 882.1 167.8 884.0 165.0C885.9 162.2 887.2 160.6 889.0 161.0C890.8 161.4 893.2 163.9 895.0 167.5C896.8 171.1 898.3 176.7 900.0 182.5C901.7 188.3 903.0 193.3 905.0 202.5C907.0 211.7 909.9 225.5 912.0 237.6C914.1 249.7 915.4 263.1 917.6 275.0C919.8 286.9 922.5 298.3 925.0 309.0C927.5 319.7 930.1 330.2 932.6 339.0C935.1 347.8 937.2 353.4 940.0 361.6C942.8 369.8 946.3 380.2 949.5 388.0C952.7 395.8 955.9 403.9 959.0 408.6C962.1 413.3 964.8 414.4 968.0 416.0C971.2 417.6 975.3 419.9 978.5 418.0C981.7 416.1 984.0 410.5 987.0 404.8C990.0 399.1 993.7 391.8 996.5 384.0C999.3 376.2 1001.8 365.6 1004.0 357.8C1006.2 350.0 1007.4 342.3 1009.6 337.0C1011.8 331.7 1014.5 325.7 1017.0 326.0C1019.5 326.3 1022.5 331.8 1024.7 339.0C1026.9 346.2 1028.1 357.1 1030.0 369.0C1031.9 380.9 1034.1 397.2 1036.0 410.4C1037.9 423.6 1039.8 436.7 1041.6 448.0C1043.4 459.3 1045.1 468.7 1047.0 478.0C1048.9 487.3 1050.8 495.2 1053.0 504.0C1055.2 512.8 1057.5 523.1 1060.0 530.7C1062.5 538.3 1065.4 544.5 1068.0 549.5C1070.6 554.5 1072.9 558.7 1075.4 560.7C1077.9 562.7 1080.5 563.1 1083.0 561.5C1085.5 559.9 1087.9 555.5 1090.4 551.0C1092.9 546.5 1095.5 538.8 1098.0 534.5C1100.5 530.2 1103.3 525.3 1105.5 525.0C1107.7 524.7 1109.2 527.9 1111.0 532.6C1112.8 537.3 1114.3 542.8 1116.0 553.0C1117.7 563.2 1119.3 581.5 1121.0 594.0C1122.7 606.5 1124.0 615.9 1126.0 627.7C1128.0 639.5 1130.5 653.7 1132.8 665.0C1135.0 676.3 1137.3 685.8 1139.5 695.4C1141.7 705.0 1143.8 715.7 1146.0 722.5C1148.2 729.3 1150.7 732.1 1153.0 736.0C1155.3 739.9 1158.3 741.5 1160.0 746.0C1161.7 750.5 1161.9 754.5 1163.0 763.0C1164.1 771.5 1165.1 784.6 1166.6 797.0C1168.0 809.4 1170.3 825.3 1171.7 837.6C1173.1 849.9 1174.0 860.6 1175.0 871.0C1176.0 881.4 1177.2 895.2 1177.7 900.0" stroke="#008000" stroke-width="7.2"/>
</g>
<rect x="209.0" y="23.7" width="1175.6" height="875.3" fill="none" stroke="#000" stroke-width="3.3"/>
<path d="M209.0 899.0V916.5M444.1 899.0V916.5M679.2 899.0V916.5M914.4 899.0V916.5M1149.5 899.0V916.5M1384.6 899.0V916.5M209.0 23.7H191.0M209.0 242.5H191.0M209.0 461.3H191.0M209.0 680.2H191.0M209.0 899.0H191.0" stroke="#000" stroke-width="3.3" fill="none"/>
<path d="M326.6 899.0V908.5M561.7 899.0V908.5M796.8 899.0V908.5M1031.9 899.0V908.5M1267.0 899.0V908.5M209.0 133.1H199.0M209.0 351.9H199.0M209.0 570.8H199.0M209.0 789.6H199.0" stroke="#000" stroke-width="3" fill="none"/>
<g font-family="'Liberation Sans', Arial, sans-serif" fill="#000">
<g font-size="48.5" text-anchor="middle">
<text x="209.0" y="965.5">0</text>
<text x="444.1" y="965.5">100</text>
<text x="679.2" y="965.5">200</text>
<text x="914.4" y="965.5">300</text>
<text x="1149.5" y="965.5">400</text>
<text x="1384.6" y="965.5">500</text>
</g>
<g font-size="48" text-anchor="end">
<text transform="translate(179.5 37.2) scale(1 1.03)">0</text>
<text transform="translate(179.5 256.0) scale(1 1.03)">-10</text>
<text transform="translate(179.5 474.8) scale(1 1.03)">-20</text>
<text transform="translate(179.5 693.7) scale(1 1.03)">-30</text>
<text transform="translate(179.5 912.5) scale(1 1.03)">-40</text>
</g>
<text x="797.5" y="1051" font-size="53" text-anchor="middle">Frequency (GHz)</text>
<text transform="translate(40 495.3) rotate(-90)" font-size="53.3" text-anchor="middle">S-parameters (dB)</text>
<rect x="629.5" y="673" width="491" height="209.5" fill="#fff" stroke="#000" stroke-width="1.5"/>
<path d="M650.7 706H737" stroke="#000" stroke-width="6.4" stroke-dasharray="0.01 12.14" stroke-linecap="round" fill="none"/>
<text transform="translate(754.6 719.1) scale(1.037 1)" font-size="40.5" stroke="#000" stroke-width="0.3">Mea_Reflection</text>
<path d="M651 757.3H743.5" stroke="#f00" stroke-width="6.5" stroke-linecap="round" fill="none"/>
<text transform="translate(754.6 770.3) scale(1.037 1)" font-size="40.5" stroke="#000" stroke-width="0.3">Mea_Transmission</text>
<path d="M650.7 808.4H737" stroke="#00f" stroke-width="6.4" stroke-dasharray="0.01 12.14" stroke-linecap="round" fill="none"/>
<text transform="translate(754.6 821.4) scale(1.037 1)" font-size="40.5" stroke="#000" stroke-width="0.3">Sim_Reflection</text>
<path d="M651 859.6H743.5" stroke="#008000" stroke-width="6.5" stroke-linecap="round" fill="none"/>
<text transform="translate(754.6 872.6) scale(1.037 1)" font-size="40.5" stroke="#000" stroke-width="0.3">Sim_Transmission</text>
</g>
</svg>
</body></html>
